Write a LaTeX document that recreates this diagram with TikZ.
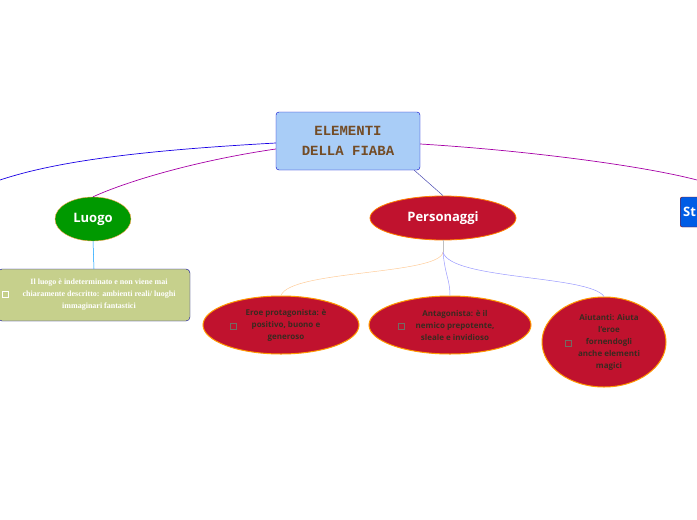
\documentclass[tikz,border=0pt]{standalone}
\usepackage{fontspec}
\setmainfont{Open Sans}
\newfontfamily\serifx{Liberation Serif}
\newfontfamily\monox{Liberation Mono}
\usetikzlibrary{shapes.geometric}
\definecolor{redf}{HTML}{C0122E}
\definecolor{darkt}{HTML}{3A2A20}
\definecolor{olivef}{HTML}{C6D08C}
\definecolor{cfill}{HTML}{A9CDF7}
\tikzset{
 child/.style={ellipse,draw=orange!80!yellow,line width=1pt,fill=redf,inner sep=0pt,text=darkt,font=\fontsize{8}{12}\selectfont\bfseries,align=center},
 cb/.style={draw=darkt!70,line width=0.4pt,minimum size=6pt,inner sep=0pt},
}
\begin{document}
\begin{tikzpicture}[x=1pt,y=-1pt]
\useasboundingbox (0,0) rectangle (697,520);
\clip (0,0) rectangle (697,520);
\node[draw=blue!80!black,fill=cfill,rounded corners=3pt,minimum width=144,minimum height=58,text=brown!60!black,font=\monox\bfseries\fontsize{14}{20}\selectfont,align=center] (c) at (348,141) {ELEMENTI\\DELLA FIABA};
\node[ellipse,fill=green!60!black,draw=orange!70,minimum width=76,minimum height=44,inner sep=0pt,text=white,font=\bfseries\fontsize{13}{15}\selectfont] (l) at (93,219) {Luogo};
\node[ellipse,fill=redf,draw=orange,line width=0.8pt,minimum width=146,minimum height=44,inner sep=0pt,text=white,font=\bfseries\fontsize{13}{15}\selectfont] (p) at (443,218) {Personaggi};
\node[draw=red!60!black,fill=blue!60!cyan!90!black,rounded corners=2pt,minimum height=30,inner sep=3pt,text=white,font=\bfseries\fontsize{13}{15}\selectfont,anchor=west] (s) at (680,212) {St};
\coordinate (lw) at (0,180);
\coordinate (re) at (697,180);
\draw[blue!80!violet,line width=0.7pt] (c.west) ++(0,2) .. controls (150,150) and (60,160) .. (lw);
\draw[violet!70!magenta,line width=0.7pt] (c.west) ++(0,8) .. controls (200,160) and (130,180) .. (l.north);
\draw[violet!70!magenta,line width=0.7pt] (c.east) ++(0,3) .. controls (520,150) and (640,165) .. (re);
\draw[blue!40!gray,line width=0.5pt] (c.south east) ++(-6,0) -- (p.north);
\node[fill=olivef,draw=blue!60!black,rounded corners=4pt,minimum width=192,minimum height=52,text=white,font=\serifx\bfseries\fontsize{8}{12}\selectfont,align=center,inner sep=0pt] (t) at (94,295) {\hspace{10pt}Il luogo è indeterminato e non viene mai\\\hspace{10pt}chiaramente descritto: ambienti reali/ luoghi\\\hspace{10pt}immaginari fantastici};
\node[draw=white,minimum size=6pt,inner sep=0pt] at (5,294) {};
\draw[blue!40!cyan,line width=0.5pt] (l.south) -- (t.north);
\node[child,minimum width=156,minimum height=58] (e) at (281,325) {\hspace{10pt}Eroe protagonista: è\\\hspace{10pt}positivo, buono e\\\hspace{10pt}generoso};
\node[child,minimum width=162,minimum height=58] (a) at (450,325) {\hspace{10pt}Antagonista: è il\\\hspace{10pt}nemico prepotente,\\\hspace{10pt}sleale e invidioso};
\node[child,minimum width=124,minimum height=90] (h) at (604,342) {\hspace{10pt}Aiutanti: Aiuta\\\hspace{10pt}l'eroe\\\hspace{10pt}fornendogli\\\hspace{10pt}anche elementi\\\hspace{10pt}magici};
\node[cb] at (233,326) {};
\node[cb] at (401,326) {};
\node[cb] at (568,343) {};
\coordinate (pb) at (443,252);
\draw[orange!40,line width=0.5pt] (pb) .. controls (440,275) and (290,270) .. (e.north);
\draw[blue!40,line width=0.5pt] (pb) .. controls (445,275) and (450,280) .. (a.north);
\draw[blue!40,line width=0.5pt] (pb) .. controls (450,280) and (590,275) .. (h.north);
\draw[gray!50,line width=0.4pt] (p.south) -- (pb);
\end{tikzpicture}
\end{document}
